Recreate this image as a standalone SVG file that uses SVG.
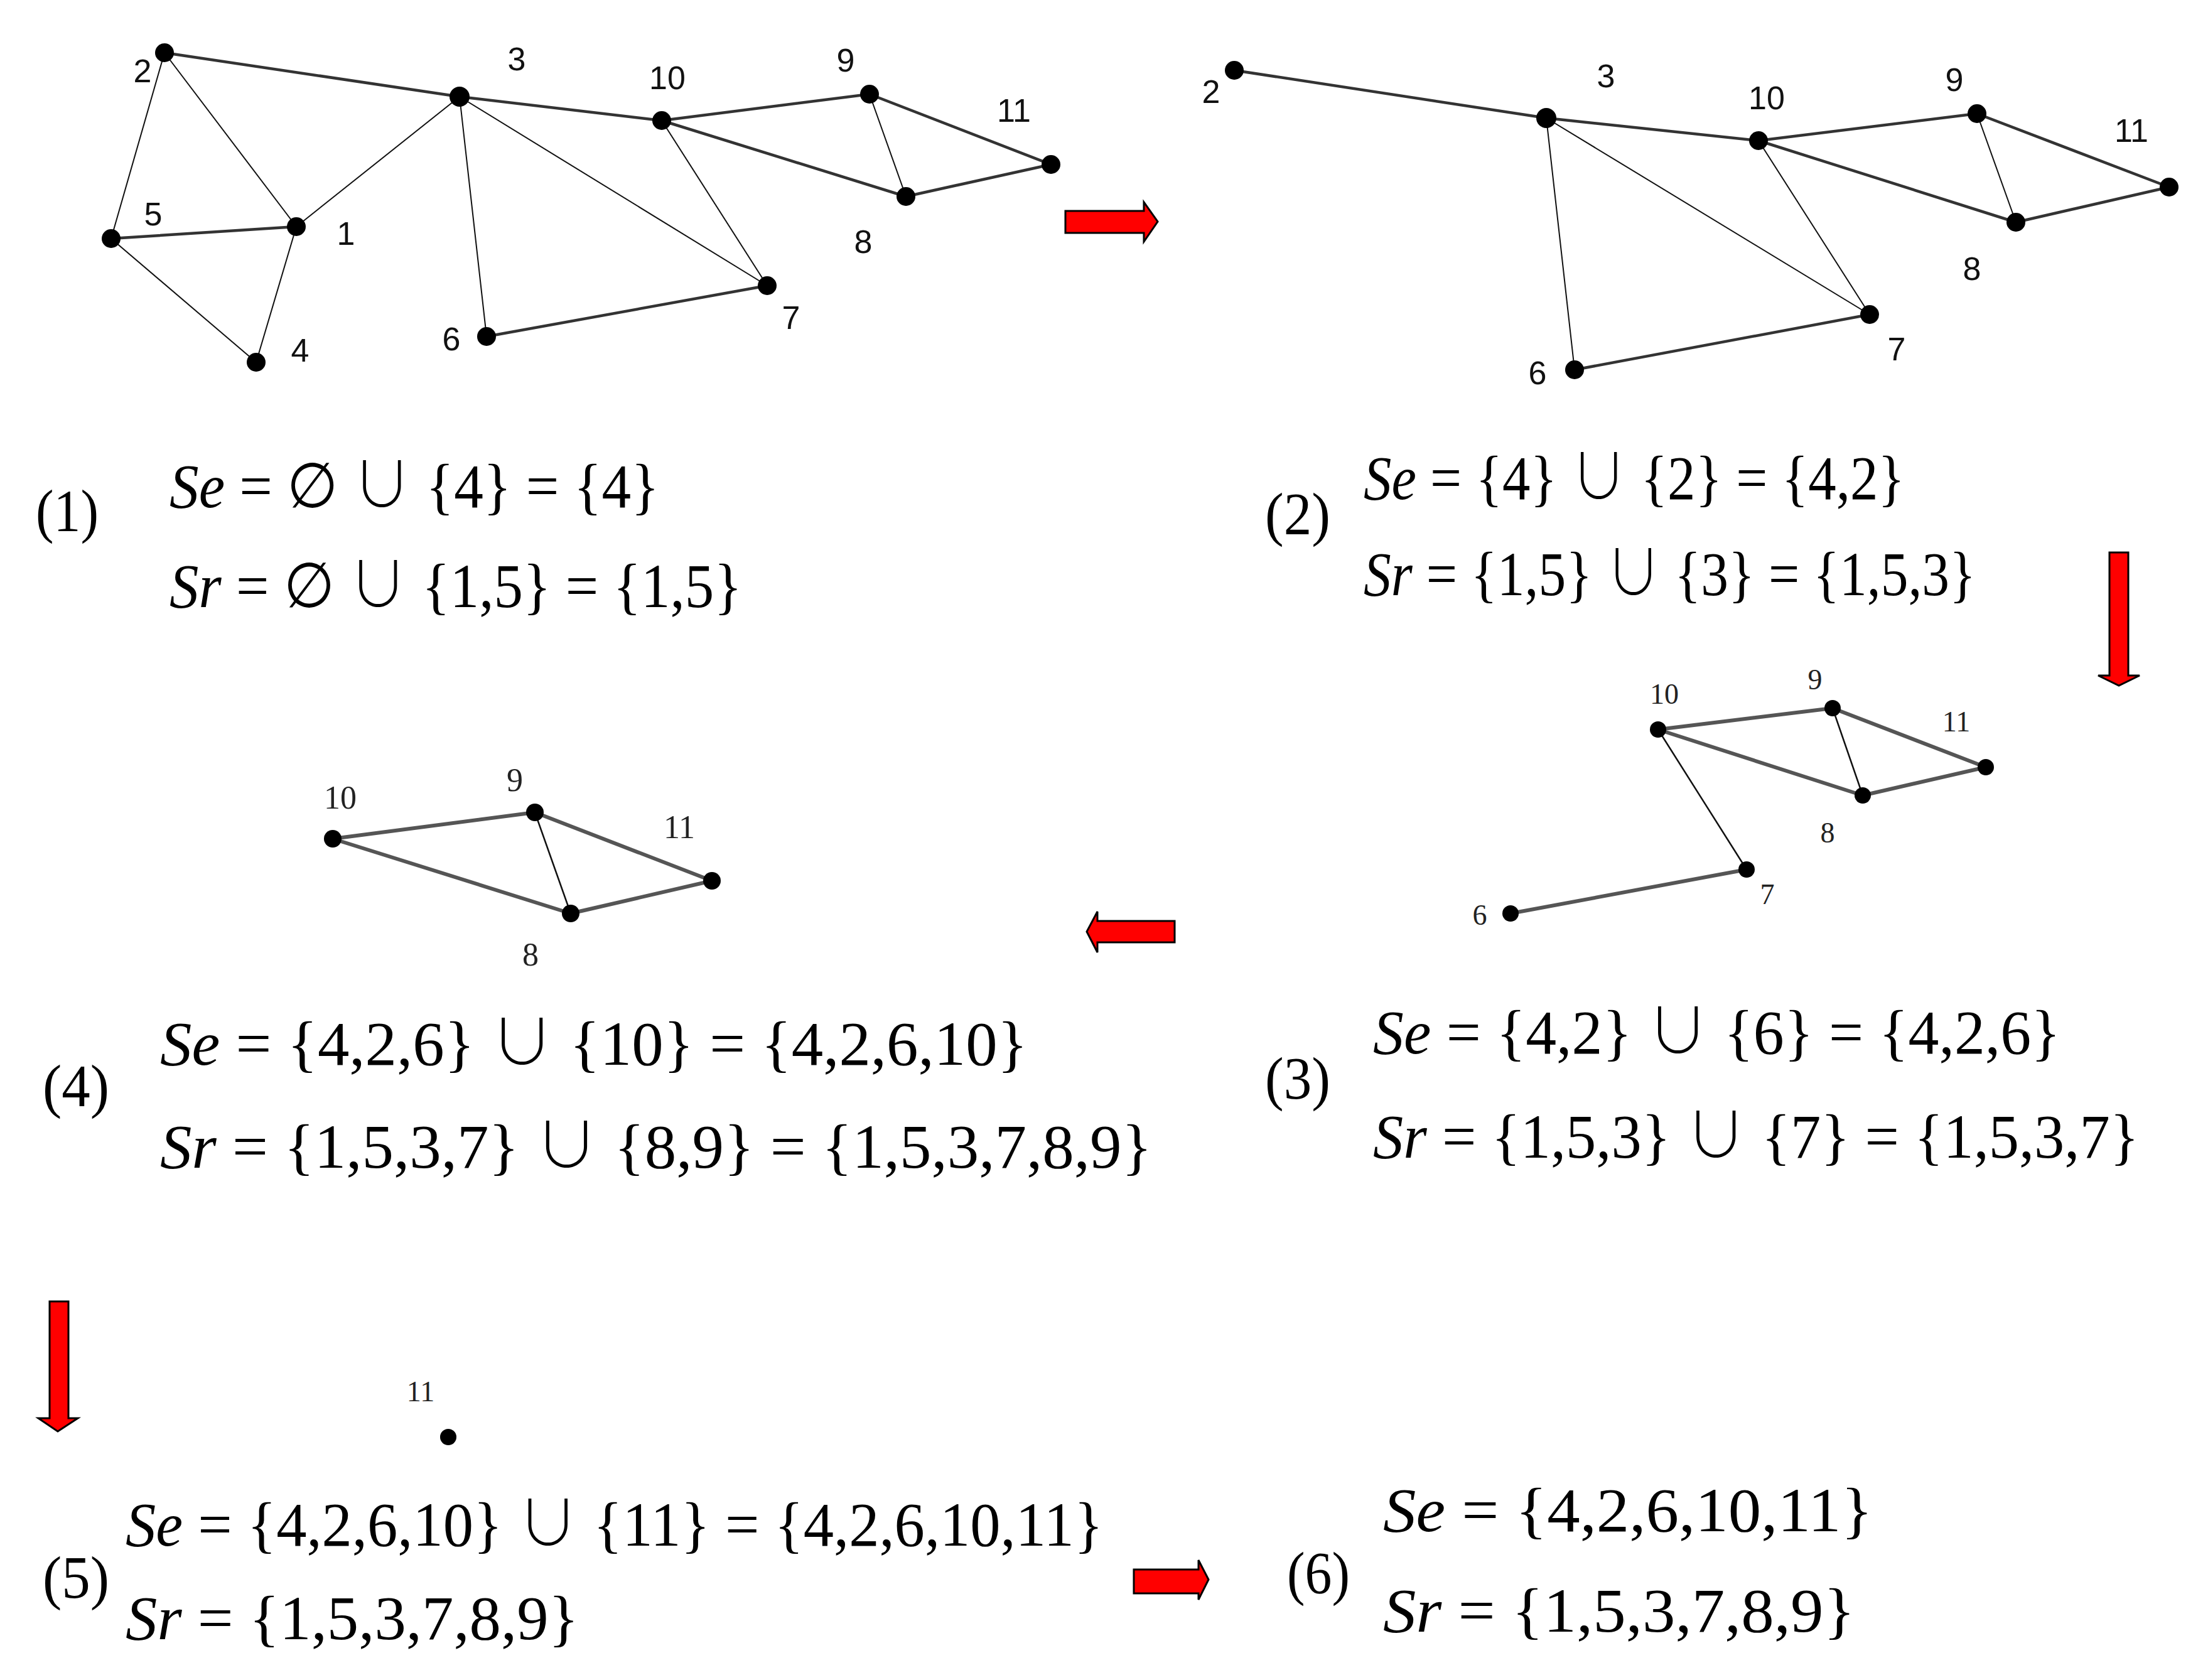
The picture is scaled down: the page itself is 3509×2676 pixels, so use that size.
<svg xmlns="http://www.w3.org/2000/svg" width="3509" height="2676" viewBox="0 0 3509 2676">
<style>
.bg{fill:#fff}
.thick{stroke:#333;stroke-width:4.5;stroke-linecap:round}
.thin{stroke:#111;stroke-width:2;stroke-linecap:round}
.thick2{stroke:#555;stroke-width:6;stroke-linecap:round}
.thin2{stroke:#111;stroke-width:2.5;stroke-linecap:round}
.dot{fill:#000}
.ls{font-family:"Liberation Sans",Arial,sans-serif;font-size:52px;fill:#111;text-anchor:middle}
.lr{font-family:"Liberation Serif","Times New Roman",serif;font-size:46px;fill:#222;text-anchor:middle}
.lr4{font-family:"Liberation Serif","Times New Roman",serif;font-size:52px;fill:#222;text-anchor:middle}
.f{font-family:"Liberation Serif","DejaVu Serif",serif;font-size:100px;fill:#000}
.p{font-family:"Liberation Serif","DejaVu Serif",serif;font-size:95px;fill:#000}
.it{font-style:italic}
.u{font-family:"Noto Sans CJK JP","DejaVu Serif",serif;font-weight:300}
.arrow{fill:#ff0000;stroke:#000;stroke-width:3;stroke-linejoin:miter}
</style>
<rect class="bg" x="0" y="0" width="3509" height="2676"/>

<g id="connectors">
  <!-- panel 1 -->
  <line class="thick" x1="262" y1="84" x2="732" y2="154"/>
  <line class="thin" x1="262" y1="84" x2="177" y2="380"/>
  <line class="thin" x1="262" y1="84" x2="472" y2="361"/>
  <line class="thick" x1="177" y1="380" x2="472" y2="361"/>
  <line class="thin" x1="177" y1="380" x2="408" y2="577"/>
  <line class="thin" x1="472" y1="361" x2="408" y2="577"/>
  <line class="thin" x1="472" y1="361" x2="732" y2="154"/>
  <line class="thin" x1="732" y1="154" x2="775" y2="536"/>
  <line class="thin" x1="732" y1="154" x2="1222" y2="455"/>
  <line class="thick" x1="732" y1="154" x2="1054" y2="192"/>
  <line class="thick" x1="1054" y1="192" x2="1385" y2="150"/>
  <line class="thick" x1="1054" y1="192" x2="1443" y2="313"/>
  <line class="thin" x1="1054" y1="192" x2="1222" y2="455"/>
  <line class="thick" x1="1385" y1="150" x2="1674" y2="262"/>
  <line class="thin" x1="1385" y1="150" x2="1443" y2="313"/>
  <line class="thick" x1="1443" y1="313" x2="1674" y2="262"/>
  <line class="thick" x1="775" y1="536" x2="1222" y2="455"/>
  <!-- panel 2 -->
  <line class="thick" x1="1966" y1="112" x2="2463" y2="188"/>
  <line class="thick" x1="2463" y1="188" x2="2801" y2="224"/>
  <line class="thin" x1="2463" y1="188" x2="2508" y2="589"/>
  <line class="thin" x1="2463" y1="188" x2="2978" y2="501"/>
  <line class="thick" x1="2801" y1="224" x2="3149" y2="181"/>
  <line class="thick" x1="2801" y1="224" x2="3211" y2="354"/>
  <line class="thin" x1="2801" y1="224" x2="2978" y2="501"/>
  <line class="thick" x1="3149" y1="181" x2="3455" y2="298"/>
  <line class="thin" x1="3149" y1="181" x2="3211" y2="354"/>
  <line class="thick" x1="3211" y1="354" x2="3455" y2="298"/>
  <line class="thick" x1="2508" y1="589" x2="2978" y2="501"/>
  <!-- panel 3 -->
  <line class="thick2" x1="2641" y1="1162" x2="2919" y2="1128"/>
  <line class="thick2" x1="2641" y1="1162" x2="2967" y2="1267"/>
  <line class="thin2" x1="2641" y1="1162" x2="2782" y2="1385"/>
  <line class="thick2" x1="2919" y1="1128" x2="3163" y2="1222"/>
  <line class="thin2" x1="2919" y1="1128" x2="2967" y2="1267"/>
  <line class="thick2" x1="2967" y1="1267" x2="3163" y2="1222"/>
  <line class="thick2" x1="2406" y1="1455" x2="2782" y2="1385"/>
  <!-- panel 4 -->
  <line class="thick2" x1="530" y1="1336" x2="852" y2="1294"/>
  <line class="thick2" x1="530" y1="1336" x2="909" y2="1455"/>
  <line class="thin2" x1="852" y1="1294" x2="909" y2="1455"/>
  <line class="thick2" x1="852" y1="1294" x2="1134" y2="1403"/>
  <line class="thick2" x1="909" y1="1455" x2="1134" y2="1403"/>
</g>

<g id="panel1">
  <g id="p1-n2"><circle class="dot" cx="262" cy="84" r="15"/><text class="ls" x="227" y="131">2</text></g>
  <g id="p1-n3"><circle class="dot" cx="732" cy="154" r="16"/><text class="ls" x="823" y="112">3</text></g>
  <g id="p1-n10"><circle class="dot" cx="1054" cy="192" r="15"/><text class="ls" x="1063" y="142">10</text></g>
  <g id="p1-n9"><circle class="dot" cx="1385" cy="150" r="15"/><text class="ls" x="1347" y="114">9</text></g>
  <g id="p1-n11"><circle class="dot" cx="1674" cy="262" r="15"/><text class="ls" x="1615" y="194">11</text></g>
  <g id="p1-n8"><circle class="dot" cx="1443" cy="313" r="15"/><text class="ls" x="1375" y="403">8</text></g>
  <g id="p1-n5"><circle class="dot" cx="177" cy="380" r="15"/><text class="ls" x="244" y="359">5</text></g>
  <g id="p1-n1"><circle class="dot" cx="472" cy="361" r="15"/><text class="ls" x="551" y="390">1</text></g>
  <g id="p1-n4"><circle class="dot" cx="408" cy="577" r="15"/><text class="ls" x="478" y="576">4</text></g>
  <g id="p1-n6"><circle class="dot" cx="775" cy="536" r="15"/><text class="ls" x="719" y="558">6</text></g>
  <g id="p1-n7"><circle class="dot" cx="1222" cy="455" r="15"/><text class="ls" x="1260" y="524">7</text></g>
</g>

<g id="panel2">
  <g id="p2-n2"><circle class="dot" cx="1966" cy="112" r="15"/><text class="ls" x="1929" y="164">2</text></g>
  <g id="p2-n3"><circle class="dot" cx="2463" cy="188" r="16"/><text class="ls" x="2558" y="139">3</text></g>
  <g id="p2-n10"><circle class="dot" cx="2801" cy="224" r="15"/><text class="ls" x="2814" y="174">10</text></g>
  <g id="p2-n9"><circle class="dot" cx="3149" cy="181" r="15"/><text class="ls" x="3113" y="145">9</text></g>
  <g id="p2-n11"><circle class="dot" cx="3455" cy="298" r="15"/><text class="ls" x="3395" y="226">11</text></g>
  <g id="p2-n8"><circle class="dot" cx="3211" cy="354" r="15"/><text class="ls" x="3141" y="446">8</text></g>
  <g id="p2-n7"><circle class="dot" cx="2978" cy="501" r="15"/><text class="ls" x="3021" y="574">7</text></g>
  <g id="p2-n6"><circle class="dot" cx="2508" cy="589" r="15"/><text class="ls" x="2449" y="612">6</text></g>
</g>

<g id="panel3">
  <g id="p3-n10"><circle class="dot" cx="2641" cy="1162" r="13"/><text class="lr" x="2651" y="1121">10</text></g>
  <g id="p3-n9"><circle class="dot" cx="2919" cy="1128" r="13"/><text class="lr" x="2891" y="1098">9</text></g>
  <g id="p3-n11"><circle class="dot" cx="3163" cy="1222" r="13"/><text class="lr" x="3116" y="1165">11</text></g>
  <g id="p3-n8"><circle class="dot" cx="2967" cy="1267" r="13"/><text class="lr" x="2911" y="1342">8</text></g>
  <g id="p3-n7"><circle class="dot" cx="2782" cy="1385" r="13"/><text class="lr" x="2815" y="1440">7</text></g>
  <g id="p3-n6"><circle class="dot" cx="2406" cy="1455" r="13"/><text class="lr" x="2357" y="1473">6</text></g>
</g>

<g id="panel4">
  <g id="p4-n10"><circle class="dot" cx="530" cy="1336" r="14"/><text class="lr4" x="542" y="1288">10</text></g>
  <g id="p4-n9"><circle class="dot" cx="852" cy="1294" r="14"/><text class="lr4" x="820" y="1260">9</text></g>
  <g id="p4-n11"><circle class="dot" cx="1134" cy="1403" r="14"/><text class="lr4" x="1082" y="1335">11</text></g>
  <g id="p4-n8"><circle class="dot" cx="909" cy="1455" r="14"/><text class="lr4" x="845" y="1538">8</text></g>
</g>

<g id="panel5">
  <g id="p5-n11"><circle class="dot" cx="714" cy="2289" r="13"/><text class="lr" x="670" y="2232">11</text></g>
</g>

<g id="arrows">
  <polygon id="arrow-1-2" class="arrow" points="1697,336 1822,336 1822,322 1844,353 1822,385 1822,371 1697,371"/>
  <polygon id="arrow-2-3" class="arrow" points="3360,880 3390,880 3390,1076 3408,1076 3375,1092 3342,1076 3360,1076"/>
  <polygon id="arrow-3-4" class="arrow" points="1871,1467 1748,1467 1748,1452 1731,1484 1748,1517 1748,1501 1871,1501"/>
  <polygon id="arrow-4-5" class="arrow" points="79,2073 109,2073 109,2259 124,2259 92,2280 61,2259 79,2259"/>
  <polygon id="arrow-5-6" class="arrow" points="1806,2500 1909,2500 1909,2485 1925,2516 1909,2548 1909,2538 1806,2538"/>
</g>

<g id="formulas">
  <g id="step1">
    <text class="p" x="57" y="846" textLength="100" lengthAdjust="spacingAndGlyphs">(1)</text>
    <text class="f" x="270" y="808" textLength="780" lengthAdjust="spacingAndGlyphs"><tspan class="it">Se</tspan> = ∅ <tspan class="u">∪</tspan> {4} = {4}</text>
    <text class="f" x="270" y="967" textLength="912" lengthAdjust="spacingAndGlyphs"><tspan class="it">Sr</tspan> = ∅ <tspan class="u">∪</tspan> {1,5} = {1,5}</text>
  </g>
  <g id="step2">
    <text class="p" x="2015" y="851" textLength="104" lengthAdjust="spacingAndGlyphs">(2)</text>
    <text class="f" x="2172" y="795" textLength="862" lengthAdjust="spacingAndGlyphs"><tspan class="it">Se</tspan> = {4} <tspan class="u">∪</tspan> {2} = {4,2}</text>
    <text class="f" x="2172" y="948" textLength="975" lengthAdjust="spacingAndGlyphs"><tspan class="it">Sr</tspan> = {1,5} <tspan class="u">∪</tspan> {3} = {1,5,3}</text>
  </g>
  <g id="step3">
    <text class="p" x="2015" y="1750" textLength="104" lengthAdjust="spacingAndGlyphs">(3)</text>
    <text class="f" x="2187" y="1678" textLength="1095" lengthAdjust="spacingAndGlyphs"><tspan class="it">Se</tspan> = {4,2} <tspan class="u">∪</tspan> {6} = {4,2,6}</text>
    <text class="f" x="2187" y="1844" textLength="1220" lengthAdjust="spacingAndGlyphs"><tspan class="it">Sr</tspan> = {1,5,3} <tspan class="u">∪</tspan> {7} = {1,5,3,7}</text>
  </g>
  <g id="step4">
    <text class="p" x="68" y="1762" textLength="106" lengthAdjust="spacingAndGlyphs">(4)</text>
    <text class="f" x="255" y="1696" textLength="1382" lengthAdjust="spacingAndGlyphs"><tspan class="it">Se</tspan> = {4,2,6} <tspan class="u">∪</tspan> {10} = {4,2,6,10}</text>
    <text class="f" x="255" y="1860" textLength="1580" lengthAdjust="spacingAndGlyphs"><tspan class="it">Sr</tspan> = {1,5,3,7} <tspan class="u">∪</tspan> {8,9} = {1,5,3,7,8,9}</text>
  </g>
  <g id="step5">
    <text class="p" x="68" y="2545" textLength="106" lengthAdjust="spacingAndGlyphs">(5)</text>
    <text class="f" x="200" y="2462" textLength="1557" lengthAdjust="spacingAndGlyphs"><tspan class="it">Se</tspan> = {4,2,6,10} <tspan class="u">∪</tspan> {11} = {4,2,6,10,11}</text>
    <text class="f" x="200" y="2611" textLength="722" lengthAdjust="spacingAndGlyphs"><tspan class="it">Sr</tspan> = {1,5,3,7,8,9}</text>
  </g>
  <g id="step6">
    <text class="p" x="2050" y="2538" textLength="100" lengthAdjust="spacingAndGlyphs">(6)</text>
    <text class="f" x="2203" y="2439" textLength="780" lengthAdjust="spacingAndGlyphs"><tspan class="it">Se</tspan> = {4,2,6,10,11}</text>
    <text class="f" x="2203" y="2599" textLength="752" lengthAdjust="spacingAndGlyphs"><tspan class="it">Sr</tspan> = {1,5,3,7,8,9}</text>
  </g>
</g>
</svg>
